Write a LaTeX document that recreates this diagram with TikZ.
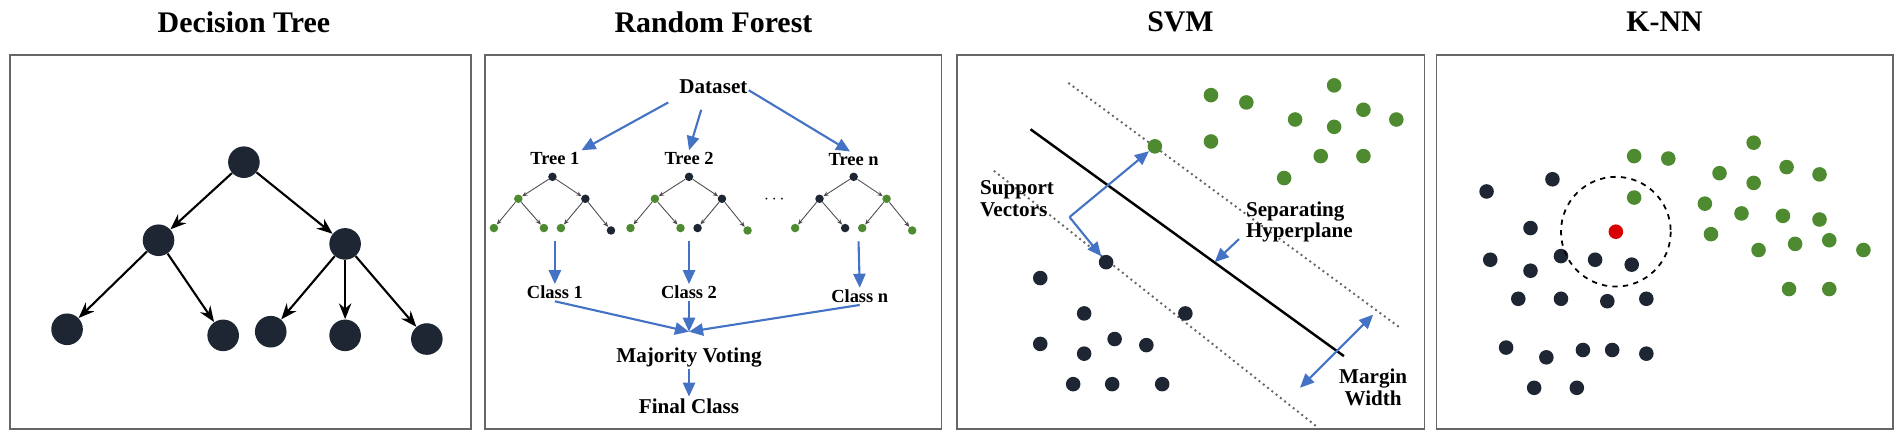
\documentclass[tikz,border=0pt]{standalone}
\usepackage{fontspec}
\setmainfont{Liberation Serif}
\usetikzlibrary{arrows.meta}
\definecolor{dk}{HTML}{1F2633}
\definecolor{gr}{HTML}{4E8A30}
\definecolor{bl}{HTML}{4472C4}
\begin{document}
\begin{tikzpicture}[x=0.02439cm,y=-0.02439cm,
  panel/.style={draw=black!60,line width=1pt},
  ttl/.style={font=\bfseries\fontsize{17}{19}\selectfont},
  lbl/.style={font=\bfseries\fontsize{12}{12.5}\selectfont,align=center,inner sep=1pt},
  slbl/.style={font=\bfseries\fontsize{10.5}{11}\selectfont,inner sep=1pt},
  big/.style={circle,fill=dk,minimum size=26*0.6914pt,inner sep=0},
  dd/.style={circle,fill=dk,minimum size=12*0.6914pt,inner sep=0},
  gd/.style={circle,fill=gr,minimum size=12*0.6914pt,inner sep=0},
  rd/.style={circle,fill=red!85!black,minimum size=12*0.6914pt,inner sep=0},
  md/.style={circle,fill=dk,minimum size=7*0.6914pt,inner sep=0},
  mg/.style={circle,fill=gr,minimum size=7*0.6914pt,inner sep=0},
  blk/.style={-{Stealth[length=9pt,width=7pt]},line width=1.2pt,black},
  sml/.style={-{Stealth[length=3pt,width=2.5pt]},line width=0.5pt,black!70},
  ba/.style={-{Triangle[length=8pt,width=7pt]},line width=1.2pt,bl},
  dot/.style={dotted,line width=1.1pt,black!60}]
\useasboundingbox (0,0) rectangle (1558,356);
% titles
\node[ttl] (t1) at (200,18) {Decision Tree};
\node[ttl] (t2) at (585,18) {Random Forest};
\node[ttl] (t3) at (968,18) {SVM};
\node[ttl] (t4) at (1365,18) {K-NN};
% panels
\draw[panel] (8,45) rectangle (386,352);
\draw[panel] (398,45) rectangle (772,352);
\draw[panel] (785,45) rectangle (1168,352);
\draw[panel] (1178,45) rectangle (1552,352);
% decision tree
\node[big] (r) at (200,133) {};
\node[big] (a) at (130,197) {};
\node[big] (b) at (283,200) {};
\node[big] (l1) at (55,270) {};
\node[big] (l2) at (183,275) {};
\node[big] (l3) at (222,272) {};
\node[big] (l4) at (283,275) {};
\node[big] (l5) at (350,278) {};
\foreach \u/\v in {r/a,r/b,a/l1,a/l2,b/l3,b/l4,b/l5} \draw[blk] (\u) -- (\v);
% random forest
\node[lbl] (ds) at (585,71) {Dataset};
\node[slbl] (tr1) at (455,130) {Tree 1};
\node[slbl] (tr2) at (565,130) {Tree 2};
\node[slbl] (trn) at (700,131) {Tree n};
\coordinate (d1) at (548,84); \coordinate (d2) at (575,90); \coordinate (d3) at (614,74);
\draw[ba] (d1) -- (tr1.north east);
\draw[ba] (d2) -- (tr2.north);
\draw[ba] (d3) -- ([xshift=-2pt]trn.north);
% mini trees
\foreach \p/\x/\rc/\lc/\la/\lb/\lcc/\ld in {A/453/mg/md/mg/mg/mg/md, B/565/mg/md/mg/mg/md/mg, C/700/md/mg/mg/md/mg/mg}{
  \node[md] (\p r) at (\x,145) {};
  \node[\rc] (\p a) at (\x-28,163) {};
  \node[\lc] (\p b) at (\x+27,163) {};
  \node[\la] (\p 1) at (\x-48,187) {};
  \node[\lb] (\p 2) at (\x-7,187) {};
  \node[\lcc] (\p 3) at (\x+7,187) {};
  \node[\ld] (\p 4) at (\x+48,189) {};
  \draw[sml] (\p r) -- (\p a); \draw[sml] (\p r) -- (\p b);
  \draw[sml] (\p a) -- (\p 1); \draw[sml] (\p a) -- (\p 2);
  \draw[sml] (\p b) -- (\p 3); \draw[sml] (\p b) -- (\p 4);
}
\node[font=\bfseries] (dots) at (635,164) {$\cdots$};
\node[slbl] (c1) at (455,240) {Class 1};
\node[slbl] (c2) at (565,240) {Class 2};
\node[slbl] (cn) at (705,243) {Class n};
\coordinate (s1) at (455,198); \coordinate (s2) at (565,198); \coordinate (s3) at (704,198);
\draw[ba] (s1) -- (c1.north); \draw[ba] (s2) -- (c2.north); \draw[ba] (s3) -- (cn.north);
\node[lbl] (mv) at (565,293) {Majority Voting};
\node[lbl] (fc) at (565,333) {Final Class};
\coordinate (m) at (565,272);
\draw[ba] (c1.south) -- (m);
\draw[ba] (c2.south) -- (m);
\draw[ba] (cn.south) -- (m);
\draw[ba] (mv.south) -- (fc.north);
% SVM
\coordinate (h1) at (845,106); \coordinate (h2) at (1102,292);
\coordinate (u1) at (876,68); \coordinate (u2) at (1147,268);
\coordinate (w1) at (815,140); \coordinate (w2) at (1080,350);
\draw[line width=1.4pt] (h1) -- (h2);
\draw[dot] (u1) -- (u2);
\draw[dot] (w1) -- (w2);
\foreach \x/\y [count=\i] in {993/78,1022/84,1062/98,1094/70,1094/104,1118/90,1145/98,993/116,1083/128,1118/128,1053/146}
  \node[gd] (g\i) at (\x,\y) {};
\node[gd] (sg) at (947,120) {};
\foreach \x/\y [count=\i] in {853/228,889/257,914/278,972/257,853/282,889/290,940/283,880/315,912/315,953/315}
  \node[dd] (k\i) at (\x,\y) {};
\node[dd] (sk) at (907,215) {};
\node[lbl,align=left,anchor=west] (sv) at (802,163) {Support\\Vectors};
\coordinate (sp) at (877,178);
\draw[ba] (sp) -- (sg);
\draw[ba] (sp) -- (sk);
\node[lbl,align=left,anchor=west] (sh) at (1020,182) {Separating\\Hyperplane};
\coordinate (sha) at (1016,196); \coordinate (shp) at (996,215);
\draw[ba] (sha) -- (shp);
\coordinate (mw1) at (1066,318); \coordinate (mw2) at (1126,258);
\draw[bl,line width=1.2pt,{Triangle[length=8pt,width=7pt]}-{Triangle[length=8pt,width=7pt]}] (mw1) -- (mw2);
\node[lbl,align=center] (mw) at (1126,318) {Margin\\Width};
% KNN
\foreach \x/\y [count=\i] in {1219/157,1273/147,1255/187,1222/213,1255/222,1280/210,1308/213,1338/217,1245/245,1280/245,1318/247,1350/245,1235/285,1268/293,1298/287,1322/287,1350/290,1258/318,1293/318}
  \node[dd] (n\i) at (\x,\y) {};
\foreach \x/\y [count=\i] in {1340/128,1368/130,1340/162,1438/117,1410/142,1438/150,1465/137,1492/143,1398/167,1428/175,1462/177,1492/180,1442/205,1472/200,1500/197,1528/205,1467/237,1500/237,1403/192}
  \node[gd] (p\i) at (\x,\y) {};
\node[rd] (q) at (1325,190) {};
\draw[dashed,line width=1pt] (q) circle (45);
\end{tikzpicture}
\end{document}
